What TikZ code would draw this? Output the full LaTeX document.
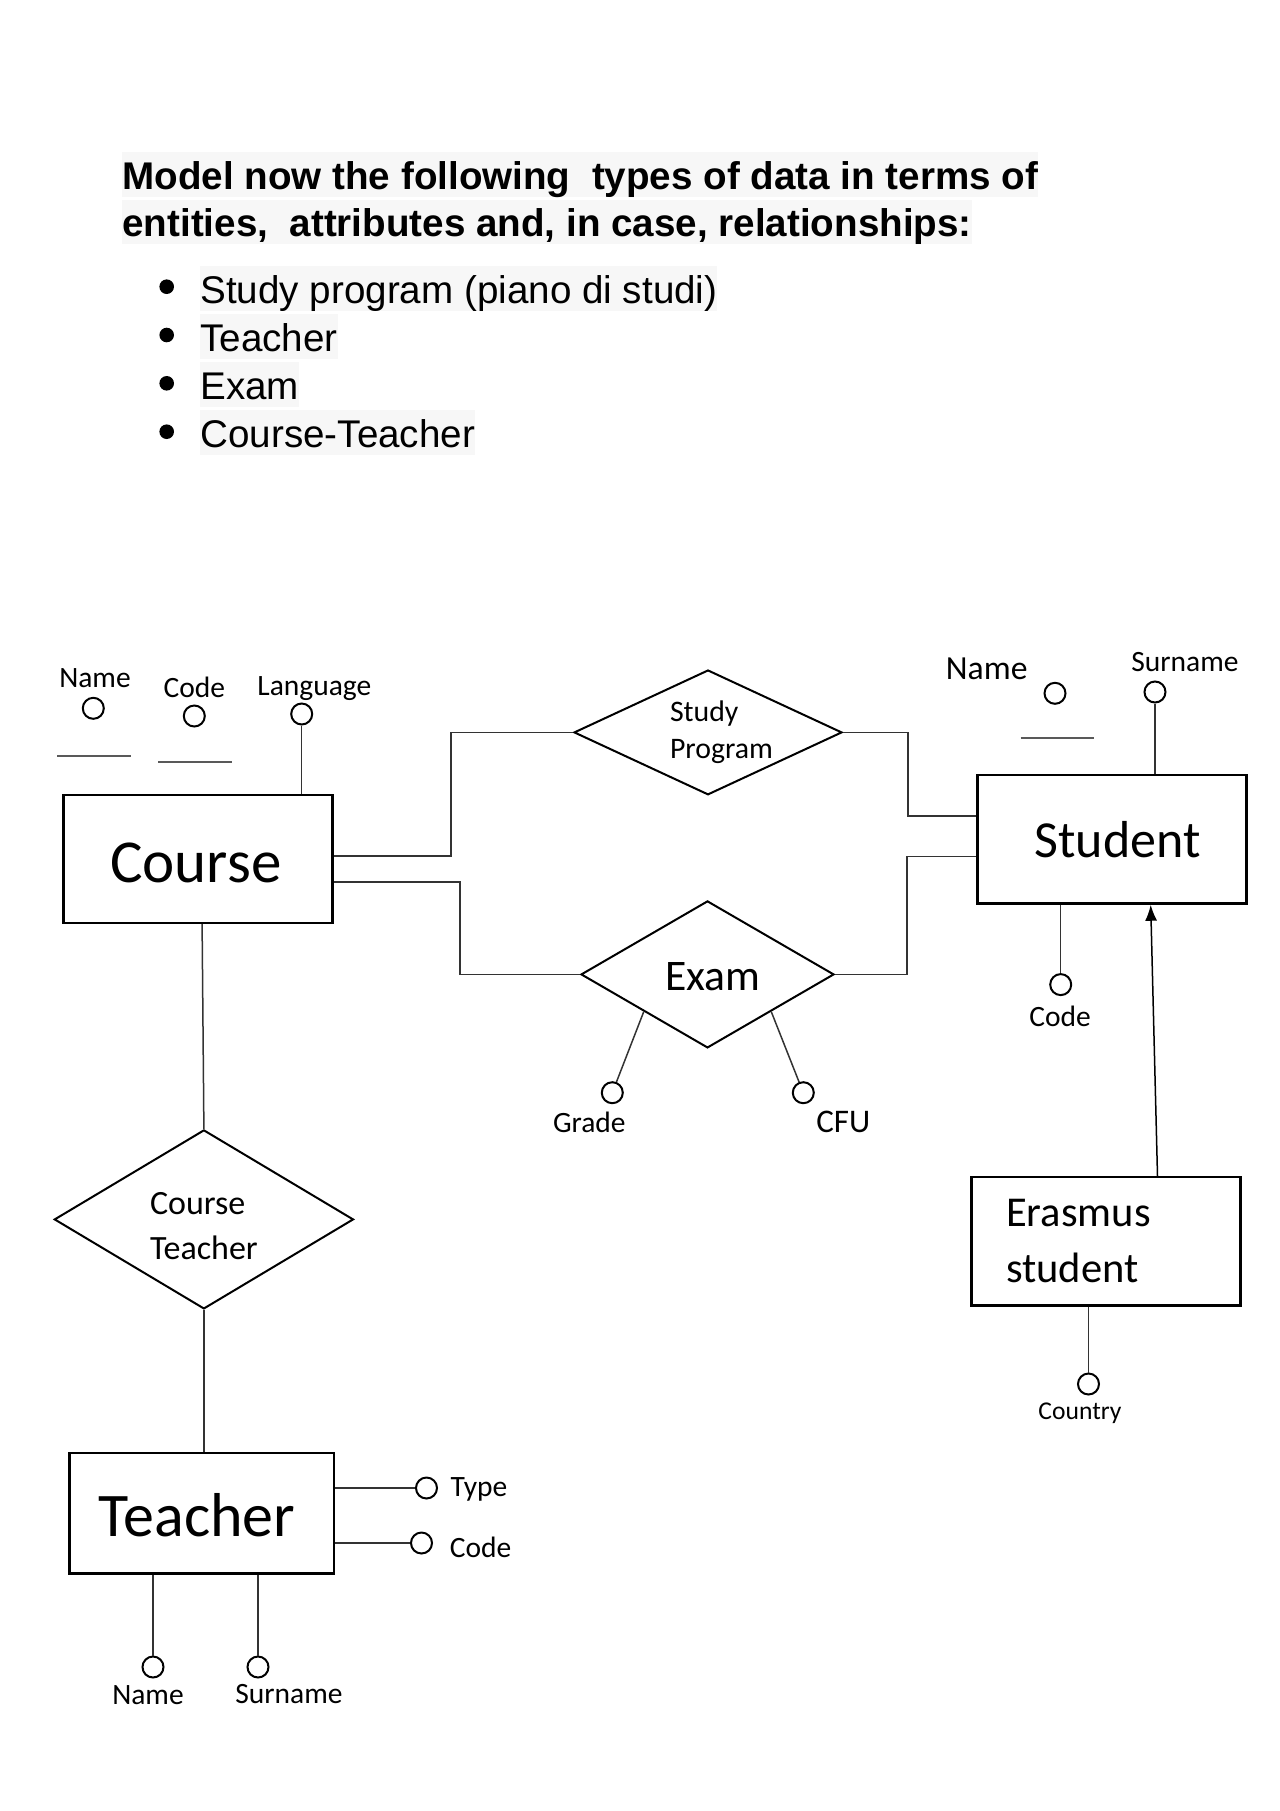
\documentclass[tikz,border=0pt]{standalone}
\usepackage{fontspec}
\setmainfont{Carlito}
\newfontfamily\headfont{Liberation Sans}
\usetikzlibrary{shapes.geometric,arrows.meta}

\tikzset{
  entity/.style={draw,rectangle,line width=1.25pt,inner sep=0pt},
  relation/.style={draw,diamond,line width=1pt,inner sep=0pt},
  attr/.style={draw,circle,line width=1pt,inner sep=0pt,minimum size=10.5pt},
  link/.style={line width=0.75pt,black!80},
  keyline/.style={line width=0.8pt,black!65},
  attrlabel/.style={anchor=base,inner sep=0pt,font=\fontsize{14.75pt}{17pt}\selectfont},
  hilite/.style={fill=black!3,inner sep=0pt,text height=18.5pt,text depth=3.75pt,anchor=base west},
  dot/.style={circle,fill,inner sep=0pt,minimum size=7.3pt}
}

\begin{document}
\begin{tikzpicture}[x=0.5pt,y=-0.5pt]
\useasboundingbox (0,0) rectangle (1280,1811);
% question
\node[hilite,font=\headfont\bfseries\fontsize{19.3pt}{23pt}\selectfont] (head1) at (122,189) {Model now the following\ \ types of data in terms of};
\node[hilite,font=\headfont\bfseries\fontsize{19.3pt}{23pt}\selectfont] (head2) at (122,236.7) {entities,\ \ attributes and, in case, relationships:};
\node[dot] (dot1) at (166.7,286.7) {};
\node[dot] (dot2) at (166.7,335) {};
\node[dot] (dot3) at (166.7,383.3) {};
\node[dot] (dot4) at (166.7,431.7) {};
\node[hilite,font=\headfont\fontsize{19.3pt}{23pt}\selectfont] (item1) at (200,303.3) {Study program (piano di studi)};
\node[hilite,font=\headfont\fontsize{19.3pt}{23pt}\selectfont] (item2) at (200,351) {Teacher};
\node[hilite,font=\headfont\fontsize{19.3pt}{23pt}\selectfont] (item3) at (200,399) {Exam};
\node[hilite,font=\headfont\fontsize{19.3pt}{23pt}\selectfont] (item4) at (200,447) {Course-Teacher};

% entities
\node[entity,minimum width=134.6pt,minimum height=64pt,text height=24pt,font=\fontsize{30.5pt}{34pt}\selectfont] (course) at (198.1,858.9) {Course\hspace*{2.3pt}};
\node[entity,minimum width=134.6pt,minimum height=64.2pt,text height=18pt,font=\fontsize{26pt}{30pt}\selectfont] (student) at (1111.9,839.3) {\hspace*{5.8pt}Student};
\node[entity,minimum width=132.3pt,minimum height=60.1pt,text height=23pt,font=\fontsize{31pt}{34pt}\selectfont] (teacher) at (201.6,1513.3) {Teacher\hspace*{4.6pt}};
\node[entity,minimum width=134.6pt,minimum height=64.1pt,text width=100pt,align=left,font=\fontsize{21.25pt}{28pt}\selectfont] (erasmus) at (1106.1,1241.3) {Erasmus\\student};

% relationships
\node[relation,aspect=2.15,minimum width=134pt,minimum height=62.4pt,text width=38pt,align=left,font=\fontsize{14.9pt}{18.35pt}\selectfont] (sp) at (708,732.4) {Study\\Program};
\node[relation,aspect=1.72,minimum width=126.5pt,minimum height=73.5pt,text height=16.2pt,font=\fontsize{21.8pt}{25pt}\selectfont] (exam) at (707.5,974.4) {\hspace*{5.2pt}Exam};
\node[relation,aspect=1.67,minimum width=149.6pt,minimum height=89.5pt,text height=40pt,align=left,font=\fontsize{17pt}{22.5pt}\selectfont] (ct) at (203.9,1219.4) {Course\\Teacher};

% attributes
\node[attr] (cname) at (93.3,708.3) {};
\node[attr] (ccode) at (194.3,716) {};
\node[attr] (clang) at (301.7,714) {};
\node[attrlabel] (cnamel) at (95,687) {Name};
\node[attrlabel] (ccodel) at (194.3,697) {Code};
\node[attrlabel] (clangl) at (314.3,695) {Language};
\draw[keyline] (57.3,755.7) -- (130.7,755.7);
\draw[keyline] (158.3,761.7) -- (231.7,761.7);

\node[attr] (sname) at (1055,693.3) {};
\node[attr] (ssur) at (1155,692) {};
\node[attrlabel,font=\fontsize{16.85pt}{20pt}\selectfont] (snamel) at (986.7,679.3) {Name};
\node[attrlabel] (ssurl) at (1185,671.7) {Surname};
\draw[keyline] (1020.7,737.7) -- (1094,737.7);
\node[attr] (scode) at (1060.7,984.6) {};
\node[attrlabel] (scodel) at (1060,1026) {Code};

\node[attr] (country) at (1088.5,1384) {};
\node[attrlabel,font=\fontsize{12.8pt}{15pt}\selectfont] (countryl) at (1080,1419) {Country};

\node[attr] (grade) at (612.3,1092.7) {};
\node[attr] (cfu) at (803.3,1092.7) {};
\node[attrlabel] (gradel) at (589.3,1132.7) {Grade};
\node[attrlabel,font=\fontsize{16.5pt}{19pt}\selectfont] (cful) at (843.3,1132.7) {CFU};

\node[attr] (ttype) at (426.5,1488) {};
\node[attr] (tcode) at (421.5,1543) {};
\node[attrlabel] (ttypel) at (479,1496) {Type};
\node[attrlabel] (tcodel) at (480.6,1557) {Code};
\node[attr] (tname) at (153,1667) {};
\node[attr] (tsur) at (258,1667) {};
\node[attrlabel] (tnamel) at (148,1704) {Name};
\node[attrlabel] (tsurl) at (289,1703) {Surname};

% connectors
\draw[link] ([yshift=1.5pt]course.east) -- ++(117,0) |- (sp.west);
\draw[link] ([yshift=-11.5pt]course.east) -- ++(126,0) |- (exam.west);
\draw[link] (sp.east) -- ++(65,0) |- ([yshift=11.7pt]student.west);
\draw[link] (exam.east) -- ++(72,0) |- ([yshift=-8.5pt]student.west);
\draw[link] ([xshift=2pt]course.south) -- (ct.north);
\draw[link] (ct.south) -- (ct.south |- teacher.north);
\draw[link] (clang) -- (clang |- course.north);
\draw[link] (ssur) -- (ssur |- student.north);
\draw[link] (scode) -- (scode |- student.south);
\draw[link] (country) -- (country |- erasmus.south);
\draw[link] (exam.south west) -- (grade);
\draw[link] (exam.south east) -- (cfu);
\draw[link] (ttype) -- (ttype -| teacher.east);
\draw[link] (tcode) -- (tcode -| teacher.east);
\draw[link] (tname) -- (tname |- teacher.south);
\draw[link] (tsur) -- (tsur |- teacher.south);
\draw[link,black,-{Latex[length=8pt,width=6pt]}] ([xshift=25.7pt]erasmus.north) -- ([xshift=19.4pt]student.south);
\end{tikzpicture}
\end{document}
